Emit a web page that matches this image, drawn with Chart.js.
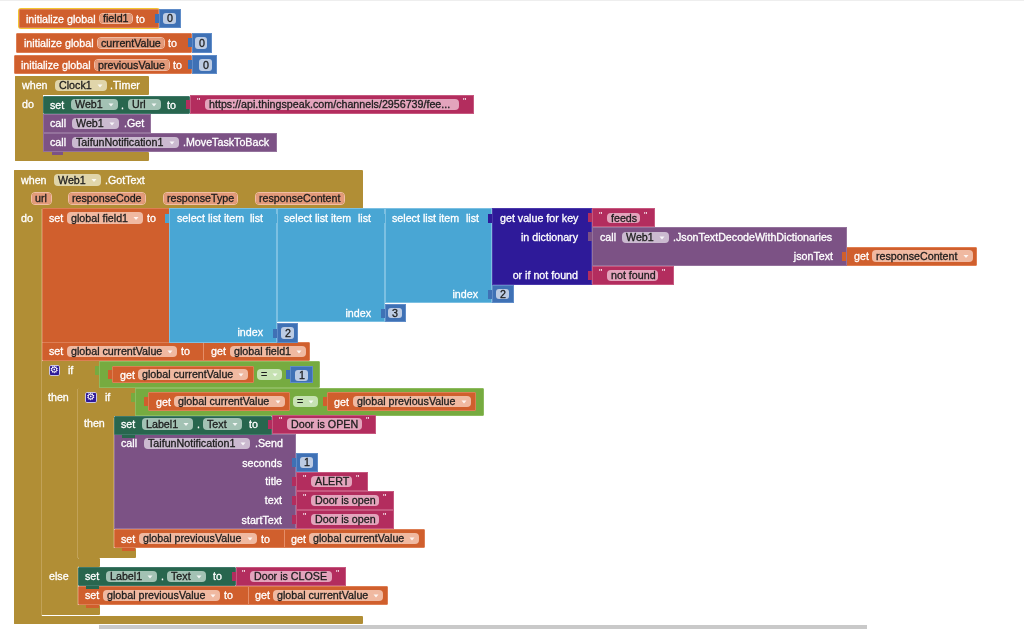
<!DOCTYPE html>
<html>
<head>
<meta charset="utf-8">
<title>App Inventor blocks</title>
<script src="https://cdn.jsdelivr.net/npm/chart.js@4/dist/chart.umd.min.js"></script>
<style>
    html, body { margin: 0; padding: 0; background: #fff; overflow: hidden; }
    canvas { display: block; }
</style>
</head>
<body>
<canvas id="blocks" width="1024" height="629"></canvas>
<script>
// every rectangle is [left, right, top, bottom]
const pageLine = [[0, 1024, 0, 1]];
const scrollBar = [[99, 867, 625, 629]];
const selectedOutline = [[18, 160, 8, 29]];

const goldBlocks = [
    [15, 149, 76, 95], [15, 43, 76, 161], [15, 149, 152, 161],
    [14, 363, 170, 209], [14, 42, 170, 624], [14, 363, 616, 624],
    [42, 100, 361, 388], [42, 78, 361, 615], [78, 100, 558, 567], [42, 100, 605, 615],
    [78, 136, 388, 416], [78, 114, 388, 558], [78, 136, 548, 558]
];
const goldEdges = [[41, 42, 209, 616], [77, 78, 389, 558], [113, 114, 418, 548], [77, 78, 567, 605]];
const greenOps = [[99, 320, 361, 388], [135, 484, 388, 416]];
const orangeBlocks = [
    [19, 159, 9, 28], [16, 192, 33, 53], [14, 192, 55, 74],
    [42, 170, 208, 343], [42, 310, 342, 361],
    [112, 254, 366, 383], [148, 290, 392, 411], [327, 476, 392, 411],
    [114, 425, 529, 548], [78, 388, 586, 605]
];
const orangeDividers = [[203, 204, 343, 360], [284, 285, 530, 547], [248, 249, 587, 604]];
const selectBlocks = [[169, 277, 208, 343], [277, 385, 208, 322], [385, 492, 208, 303]];
const dictBlocks = [[492, 592, 208, 285]];
const purpleBlocks = [[43, 151, 114, 133], [43, 277, 133, 152], [592, 847, 227, 266], [114, 296, 434, 529]];
const tealBlocks = [[43, 190, 96, 114], [114, 272, 416, 435], [78, 236, 567, 586]];
const magentaBlocks = [
    [190, 474, 95, 114], [592, 655, 208, 227], [592, 674, 266, 285], [272, 376, 415, 434],
    [296, 368, 472, 491], [296, 394, 491, 510], [296, 394, 510, 529], [236, 346, 567, 586]
];
const responseBlock = [[846, 977, 247, 266]];
const numberBlocks = [
    [159, 181, 9, 28], [192, 212, 33, 53], [192, 217, 55, 74],
    [277, 298, 323, 343], [385, 406, 304, 322], [492, 514, 285, 303],
    [290, 313, 366, 383], [296, 318, 453, 472]
];

// little puzzle tabs and the bumps under the last statement of a stack
const numberTabs = [
    [155, 159, 14, 23], [188, 192, 38, 47], [188, 192, 60, 69], [273, 277, 329, 338],
    [381, 385, 309, 318], [488, 492, 290, 299], [286, 290, 370, 379], [292, 296, 458, 467]
];
const selectTabs = [[165, 169, 214, 223], [273, 277, 214, 223], [381, 385, 214, 223]];
const dictTabs = [[488, 492, 214, 223]];
const magentaTabs = [
    [186, 190, 100, 109], [588, 592, 213, 222], [588, 592, 271, 280], [268, 272, 420, 429],
    [292, 296, 477, 486], [292, 296, 496, 505], [292, 296, 515, 524], [232, 236, 572, 581]
];
const purpleTabs = [[588, 592, 232, 241]];
const orangeTabs = [[842, 846, 252, 261], [108, 112, 370, 379], [144, 148, 397, 406], [323, 327, 397, 406]];
const greenTabs = [[95, 99, 366, 375], [131, 135, 393, 402]];
const purpleBumps = [[52, 63, 152, 155]];
const orangeBumps = [[122, 135, 548, 551], [86, 99, 605, 608]];
const tealBumps = [[122, 135, 435, 438], [86, 99, 586, 589]];

// chips are [left, right, top, bottom, text, hasDropdown]
const nameChips = [
    [99, 133, 13, 24, "field1", 0], [97, 165, 37, 49, "currentValue", 0], [94, 170, 59, 71, "previousValue", 0],
    [31, 52, 192, 205, "url", 0], [68, 146, 192, 205, "responseCode", 0],
    [163, 238, 192, 205, "responseType", 0], [255, 345, 192, 205, "responseContent", 0]
];
const orangeChips = [
    [67, 143, 212, 224, "global field1", 1], [872, 973, 250, 262, "responseContent", 1],
    [67, 177, 346, 357, "global currentValue", 1], [230, 306, 346, 357, "global field1", 1],
    [138, 248, 369, 380, "global currentValue", 1], [174, 285, 396, 407, "global currentValue", 1],
    [353, 471, 396, 407, "global previousValue", 1], [139, 257, 533, 544, "global previousValue", 1],
    [309, 419, 533, 544, "global currentValue", 1], [103, 220, 590, 601, "global previousValue", 1],
    [273, 383, 590, 601, "global currentValue", 1]
];
const goldChips = [[55, 107, 80, 91, "Clock1", 1], [54, 101, 174, 186, "Web1", 1]];
const tealChips = [
    [71, 118, 99, 110, "Web1", 1], [128, 161, 99, 110, "Url", 1],
    [142, 193, 418, 430, "Label1", 1], [203, 242, 418, 430, "Text", 1],
    [106, 157, 571, 582, "Label1", 1], [167, 206, 571, 582, "Text", 1]
];
const purpleChips = [
    [72, 119, 118, 129, "Web1", 1], [72, 179, 137, 148, "TaifunNotification1", 1],
    [622, 669, 232, 243, "Web1", 1], [144, 250, 438, 449, "TaifunNotification1", 1]
];
const stringChips = [
    [205, 459, 99, 110, "https://api.thingspeak.com/channels/2956739/fee...", 0],
    [607, 640, 213, 223, "feeds", 0], [607, 658, 270, 281, "not found", 0],
    [287, 362, 418, 430, "Door is OPEN", 0], [311, 352, 476, 487, "ALERT", 0],
    [311, 379, 495, 506, "Door is open", 0], [311, 379, 514, 525, "Door is open", 0],
    [250, 332, 571, 582, "Door is CLOSE", 0]
];
const numberChips = [
    [163, 176, 13, 24, "0", 0], [195, 207, 37, 49, "0", 0], [199, 212, 59, 71, "0", 0],
    [281, 294, 327, 339, "2", 0], [388, 402, 308, 318, "3", 0], [496, 509, 289, 299, "2", 0],
    [295, 308, 370, 381, "1", 0], [300, 313, 457, 468, "1", 0]
];
const operatorChips = [[257, 282, 369, 380, "=", 1], [293, 318, 396, 407, "=", 1]];

// white captions: [text, left, middle]
const leftLabels = [
    ["initialize global", 26, 19], ["to", 136, 19], ["initialize global", 24, 43], ["to", 168, 43],
    ["initialize global", 21, 65], ["to", 173, 65], ["when", 22, 85], [".Timer", 110, 85], ["do", 22, 104],
    ["set", 50, 105], [".", 121, 105], ["to", 167, 105], ["call", 50, 123], [".Get", 124, 123],
    ["call", 50, 142], [".MoveTaskToBack", 183, 142], ["when", 21, 180], [".GotText", 105, 180],
    ["do", 21, 218], ["set", 49, 218], ["to", 147, 218],
    ["select list item", 177, 218], ["list", 250, 218], ["select list item", 284, 218], ["list", 358, 218],
    ["select list item", 392, 218], ["list", 466, 218], ["get value for key", 500, 218],
    ["call", 600, 237], [".JsonTextDecodeWithDictionaries", 673, 237], ["get", 854, 256],
    ["set", 49, 351], ["to", 181, 351], ["get", 211, 351], ["if", 68, 370], ["get", 120, 375],
    ["then", 48, 397], ["if", 105, 397], ["get", 156, 402], ["get", 334, 402],
    ["then", 84, 423], ["set", 121, 424], [".", 197, 424], ["to", 249, 424],
    ["call", 121, 443], [".Send", 255, 443], ["set", 121, 539], ["to", 261, 539], ["get", 291, 539],
    ["else", 49, 576], ["set", 85, 576], [".", 161, 576], ["to", 213, 576],
    ["set", 85, 595], ["to", 224, 595], ["get", 255, 595]
];
// white captions tied to their right edge: [text, right, middle]
const rightLabels = [
    ["in dictionary", 578, 237], ["or if not found", 578, 275], ["jsonText", 833, 256],
    ["index", 263, 332], ["index", 371, 313], ["index", 478, 294],
    ["seconds", 282, 463], ["title", 282, 481], ["text", 282, 500], ["startText", 282, 520]
];

// mutator gear buttons on the two if blocks
const gearButtons = [[49, 60, 365, 376], [85, 97, 392, 403]];

// [rects, fill, radius, edge colour]
const layers = [
    [pageLine, "#eeeeee", 0], [scrollBar, "#c9c9c9", 0], [selectedOutline, "#f2c531", 3],
    [goldBlocks, "#b18e35", 1], [goldEdges, "#c2a258", 0], [greenOps, "#76ab40", 1, "#8dbb5e"],
    [orangeBlocks, "#d05f2d", 1, "#dd7e54"], [responseBlock, "#d05f2d", 1, "#e07f52"], [orangeDividers, "#e58e68", 0],
    [selectBlocks, "#49a6d4", 0, "#7cc0e2"], [dictBlocks, "#2e1a99", 0, "#4a38ab"], [purpleBlocks, "#7c5285", 0, "#94729c"],
    [tealBlocks, "#28664e", 1, "#40796a"], [magentaBlocks, "#b32d5e", 0, "#c6587f"], [numberBlocks, "#3f71b5", 0, "#5f8cc8"],
    [numberTabs, "#3f71b5", 0], [selectTabs, "#49a6d4", 0], [dictTabs, "#2e1a99", 0],
    [magentaTabs, "#b32d5e", 0], [purpleTabs, "#7c5285", 0], [orangeTabs, "#d05f2d", 0],
    [greenTabs, "#76ab40", 0], [purpleBumps, "#7c5285", 0], [orangeBumps, "#d05f2d", 0],
    [tealBumps, "#28664e", 0], [gearButtons, "#2e1a99", 2, "#c9c4e6"],
    [nameChips, "#e39a7a", 4, "#f0bda5"], [orangeChips, "#f0b9a1", 4], [goldChips, "#e0d5aa", 4], [tealChips, "#a3c2b4", 4],
    [purpleChips, "#cbbad0", 4], [stringChips, "#e3a4bc", 4], [numberChips, "#bccbe3", 3],
    [operatorChips, "#c6e2b2", 4]
];
const chipGroups = [nameChips, orangeChips, goldChips, tealChips, purpleChips, stringChips, numberChips, operatorChips];

function buildDatasets() {
    const datasets = [];
    layers.forEach(([rects, color, radius, edge]) => {
        rects.forEach(r => {
            datasets.push({
                data: [{ x: [r[0], r[1]], y: (r[2] + r[3]) / 2 }],
                barThickness: r[3] - r[2],
                backgroundColor: color,
                borderColor: edge || color,
                borderWidth: edge ? 1 : 0,
                borderRadius: radius,
                borderSkipped: false,
                inflateAmount: 0,
                grouped: false
            });
        });
    });
    // Chart.js paints the first dataset last, so flip the order
    datasets.forEach((d, i) => { d.order = datasets.length - i; });
    return datasets;
}

function putText(ctx, text, x, y) {
    ctx.strokeText(text, x, y);
    ctx.fillText(text, x, y);
}

const labelPlugin = {
    id: "labelPlugin",
    afterDatasetsDraw(chart) {
        const ctx = chart.ctx;
        const sx = chart.scales.x;
        const sy = chart.scales.y;
        ctx.save();
        ctx.textBaseline = "middle";
        ctx.font = "10.7px 'Liberation Sans'";
        ctx.lineWidth = 0.3;

        ctx.fillStyle = "#ffffff";
        ctx.strokeStyle = "#ffffff";
        ctx.textAlign = "left";
        leftLabels.forEach(l => putText(ctx, l[0], sx.getPixelForValue(l[1]), sy.getPixelForValue(l[2] + 1)));
        ctx.textAlign = "right";
        rightLabels.forEach(l => putText(ctx, l[0], sx.getPixelForValue(l[1]), sy.getPixelForValue(l[2] + 1)));

        // opening and closing quote around the text blocks
        ctx.textAlign = "left";
        ctx.font = "9px 'Liberation Sans'";
        stringChips.forEach(c => {
            const y = sy.getPixelForValue(c[2] + 3);
            ctx.fillText("\"", sx.getPixelForValue(c[0] - 8), y);
            ctx.fillText("\"", sx.getPixelForValue(c[1] + 4), y);
        });

        ctx.font = "10.7px 'Liberation Sans'";
        ctx.strokeStyle = "#1c1c1c";
        chipGroups.forEach(group => {
            group.forEach(c => {
                const y = sy.getPixelForValue((c[2] + c[3]) / 2 + 1);
                ctx.fillStyle = "#1c1c1c";
                putText(ctx, c[4], sx.getPixelForValue(c[0] + 4), y);
                if (c[5]) {
                    const x = sx.getPixelForValue(c[1] - 7);
                    ctx.fillStyle = "rgba(255,255,255,0.85)";
                    ctx.beginPath();
                    ctx.moveTo(x - 2.5, y - 2);
                    ctx.lineTo(x + 2.5, y - 2);
                    ctx.lineTo(x, y + 1);
                    ctx.closePath();
                    ctx.fill();
                }
            });
        });

        // gear glyph on the mutator buttons
        ctx.font = "10px 'DejaVu Sans'";
        ctx.textAlign = "center";
        ctx.fillStyle = "#ffffff";
        gearButtons.forEach(g => {
            ctx.fillText("\u2699", sx.getPixelForValue((g[0] + g[1]) / 2), sy.getPixelForValue((g[2] + g[3]) / 2));
        });
        ctx.restore();
    }
};

new Chart(document.getElementById("blocks").getContext("2d"), {
    type: "bar",
    data: { datasets: buildDatasets() },
    options: {
        indexAxis: "y",
        responsive: false,
        animation: false,
        layout: { padding: 0 },
        plugins: { legend: { display: false }, tooltip: { enabled: false } },
        scales: {
            x: { type: "linear", min: 0, max: 1024, display: false },
            y: { type: "linear", min: 0, max: 629, reverse: true, offset: false, display: false }
        }
    },
    plugins: [labelPlugin]
});
</script>
</body>
</html>
